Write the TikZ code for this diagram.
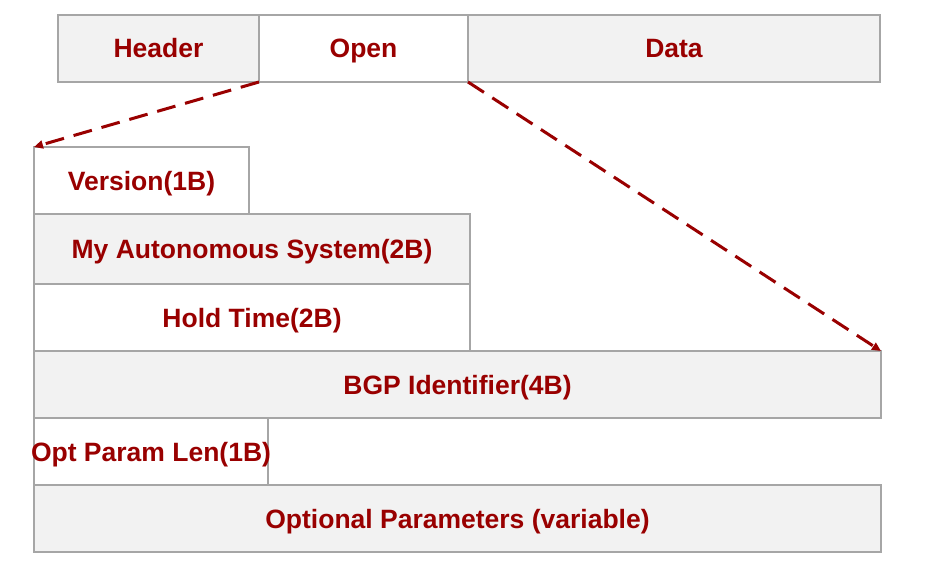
\documentclass[tikz,border=0pt]{standalone}
\usepackage{fontspec}
\setmainfont{Liberation Sans}
\usetikzlibrary{positioning,arrows.meta}
\definecolor{fieldred}{HTML}{990000}
\definecolor{fieldgray}{HTML}{F2F2F2}
\definecolor{fieldline}{HTML}{A6A6A6}
\tikzset{
  field/.style={draw=fieldline, line width=1.3bp, inner sep=0pt, outer sep=0pt,
    minimum height=67bp, text height=19bp, text depth=0pt, text=fieldred,
    font=\fontsize{26.5bp}{30bp}\selectfont\bfseries},
  grayfield/.style={field, fill=fieldgray},
  whitefield/.style={field, fill=white},
  zoomarrow/.style={draw=fieldred, line width=3bp, dash pattern=on 19bp off 10bp,
    -{Triangle[length=9bp,width=8bp]}}
}

\begin{document}
\begin{tikzpicture}[x=1bp, y=-1bp]
  \useasboundingbox (0,0) rectangle (930,564);
  % message
  \node[grayfield, minimum width=201bp, anchor=north west] (header) at (58,15) {Header};
  \node[whitefield, minimum width=209bp, right=0pt of header] (open) {Open};
  \node[grayfield, minimum width=412bp, right=0pt of open] (data) {Data};

  % open message fields
  \node[whitefield, minimum width=215bp, anchor=north west] (version) at (34,147) {Version(1B)};
  \node[grayfield, minimum width=436bp, minimum height=70bp,
    below right=0pt and 0pt of version.south west] (myas) {My Autonomous System(2B)};
  \node[whitefield, minimum width=436bp, below right=0pt and 0pt of myas.south west] (hold) {Hold Time(2B)};
  \node[grayfield, minimum width=847bp, below right=0pt and 0pt of hold.south west] (bgpid) {BGP Identifier(4B)};
  \node[whitefield, minimum width=234bp, inner xsep=-3bp,
    below right=0pt and 0pt of bgpid.south west] (optlen) {Opt Param Len(1B)};
  \node[grayfield, minimum width=847bp, below right=0pt and 0pt of optlen.south west] (optpar) {Optional Parameters (variable)};

  \draw[zoomarrow] (open.south west) -- (version.north west);
  \draw[zoomarrow] (open.south east) -- (bgpid.north east);
\end{tikzpicture}
\end{document}
